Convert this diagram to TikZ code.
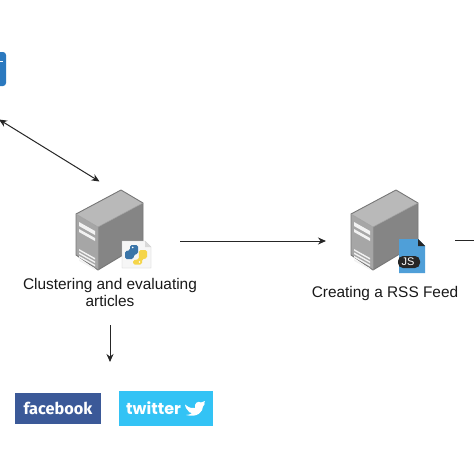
\documentclass[tikz,border=0pt]{standalone}
\usepackage{fontspec}
\setmainfont{Liberation Sans}
\newfontfamily\fbfont{Fira Sans}
\newfontfamily\twfont{Poppins}
\usetikzlibrary{arrows.meta}
\definecolor{srvtop}{HTML}{B9B9B9}
\definecolor{srvfront}{HTML}{A6A6A6}
\definecolor{srvside}{HTML}{858585}
\definecolor{srvedge}{HTML}{777777}
\definecolor{fbblue}{HTML}{3B5998}
\definecolor{twblue}{HTML}{33C3F5}
\definecolor{jsblue}{HTML}{4F9FD8}
\definecolor{appblue}{HTML}{2B79BF}
\definecolor{pyblue}{HTML}{3A75A8}
\definecolor{pyyellow}{HTML}{F5D54A}
\tikzset{
  x=1pt,y=-1pt,
  link/.style={draw=black!85,line width=1pt,-{Stealth[length=8pt,width=7pt]}},
  dlink/.style={draw=black!85,line width=1pt,{Stealth[length=8pt,width=7pt]}-{Stealth[length=8pt,width=7pt]}},
  caption/.style={font=\fontsize{15.4}{17}\selectfont,align=center,text=black!90,inner sep=0pt},
  serverpic/.pic={
    \fill[srvtop] (76,214)--(121,190)--(143,203)--(98,227)--cycle;
    \fill[srvfront] (76,214)--(98,227)--(98,270)--(76,255)--cycle;
    \fill[srvside] (98,227)--(143,203)--(143,243)--(98,270)--cycle;
    \draw[srvedge,line width=0.9pt,line join=round] (76,214)--(121,190)--(143,203)--(143,243)--(98,270)--(76,255)--cycle;
    \draw[srvedge!70,line width=0.5pt] (76,214)--(98,227)--(143,203) (98,227)--(98,270);
    \fill[white!90!gray] (79,222)--(95,231)--(95,235)--(79,226)--cycle;
    \fill[white!90!gray] (79,229)--(95,238)--(95,241)--(79,232)--cycle;
    \foreach \d in {0,3.4,6.8,10.2}{
      \fill[white!90!gray] (79,249+\d)--(95,258+\d)--(95,259.6+\d)--(79,250.6+\d)--cycle;
    }
  }
}
\begin{document}
\begin{tikzpicture}
\useasboundingbox[fill=white] (0,0) rectangle (474,474);
% top-left clipped app icon
\fill[appblue,rounded corners=3pt] (-10,52) rectangle (6,86);
\fill[white] (0,60.5) rectangle (3,62);
\coordinate (appport) at (-1,119.5);
% servers
\pic at (0,0) {serverpic};
\pic at (275,0) {serverpic};
\coordinate (clusterin) at (99.5,181.5);
\coordinate (clusterout) at (180,241);
\coordinate (feedin) at (326,241);
\coordinate (feedout) at (455,240);
\coordinate (rightedge) at (474,240);
\coordinate (clusterdown) at (110,325);
\coordinate (socialin) at (110,362);
% python doc
\fill[white!93!gray,draw=black!20,line width=0.4pt] (122,241)--(145,241)--(151,247)--(151,268)--(122,268)--cycle;
\fill[black!15] (145,241)--(151,247)--(145,247)--cycle;
\fill[pyblue,rounded corners=1.6pt] (130,245)--(138,245)--(138,254)--(134,254.5)--(133.5,259)--(125,259)--(125,251)--(130,250.5)--cycle;
\fill[white] (132.7,247.4) circle (0.9);
\fill[pyyellow,rounded corners=1.6pt] (139,250)--(147,250)--(147,258.5)--(142,259)--(142,264.5)--(133,264.5)--(133,260)--(138.8,259.5)--cycle;
\fill[white] (139.5,262) circle (0.9);
% JS doc
\fill[jsblue] (399,239)--(418,239)--(425,246)--(425,273)--(399,273)--cycle;
\fill[black!85] (418,239)--(425,246)--(418,246)--cycle;
\fill[black!85,rounded corners=5pt] (398,256) rectangle (420,268);
\node[inner sep=0pt,text=white,font=\fontsize{11}{11}\selectfont] (jslabel) at (408,262) {JS};
% captions
\node[caption] (clustertext) at (110,292.5) {Clustering and evaluating\\articles};
\node[caption] (feedtext) at (385,293.5) {Creating a RSS Feed};
% social
\node[fill=fbblue,minimum width=86pt,minimum height=31pt,inner sep=0pt,text=white,font=\fbfont\bfseries\fontsize{16.3}{18}\selectfont] (facebook) at (58,408.5) {facebook};
\node[fill=twblue,minimum width=94pt,minimum height=35pt,inner sep=0pt] (twitter) at (166,408.5) {};
\node[text=white,font=\twfont\bfseries\fontsize{16}{16}\selectfont,inner sep=0pt,anchor=west] (twittertext) at (126,408.5) {twitter};
\fill[white] (185,404.5) .. controls (190,409) and (193,408) .. (195,408)
  .. controls (194,403) and (198,400.5) .. (201,402.5)
  .. controls (202.5,402.5) and (203.5,402) .. (205,401)
  .. controls (204.5,403) and (204,403.5) .. (203.5,404)
  .. controls (204,404) and (204.5,404) .. (205,403.5)
  .. controls (204.5,405) and (204,405.5) .. (203,406.5)
  .. controls (203,412) and (197,418) .. (186,415)
  .. controls (189,415) and (191,414) .. (192,413)
  .. controls (190,413) and (188.5,412) .. (188,410.5)
  .. controls (187,409.5) and (185.5,408) .. cycle;
% connectors
\draw[dlink] (appport) -- (clusterin);
\draw[link] (clusterout) -- (feedin);
\draw[draw=black!85,line width=1pt] (feedout) -- (rightedge);
\draw[link] (clusterdown) -- (socialin);
\end{tikzpicture}
\end{document}
